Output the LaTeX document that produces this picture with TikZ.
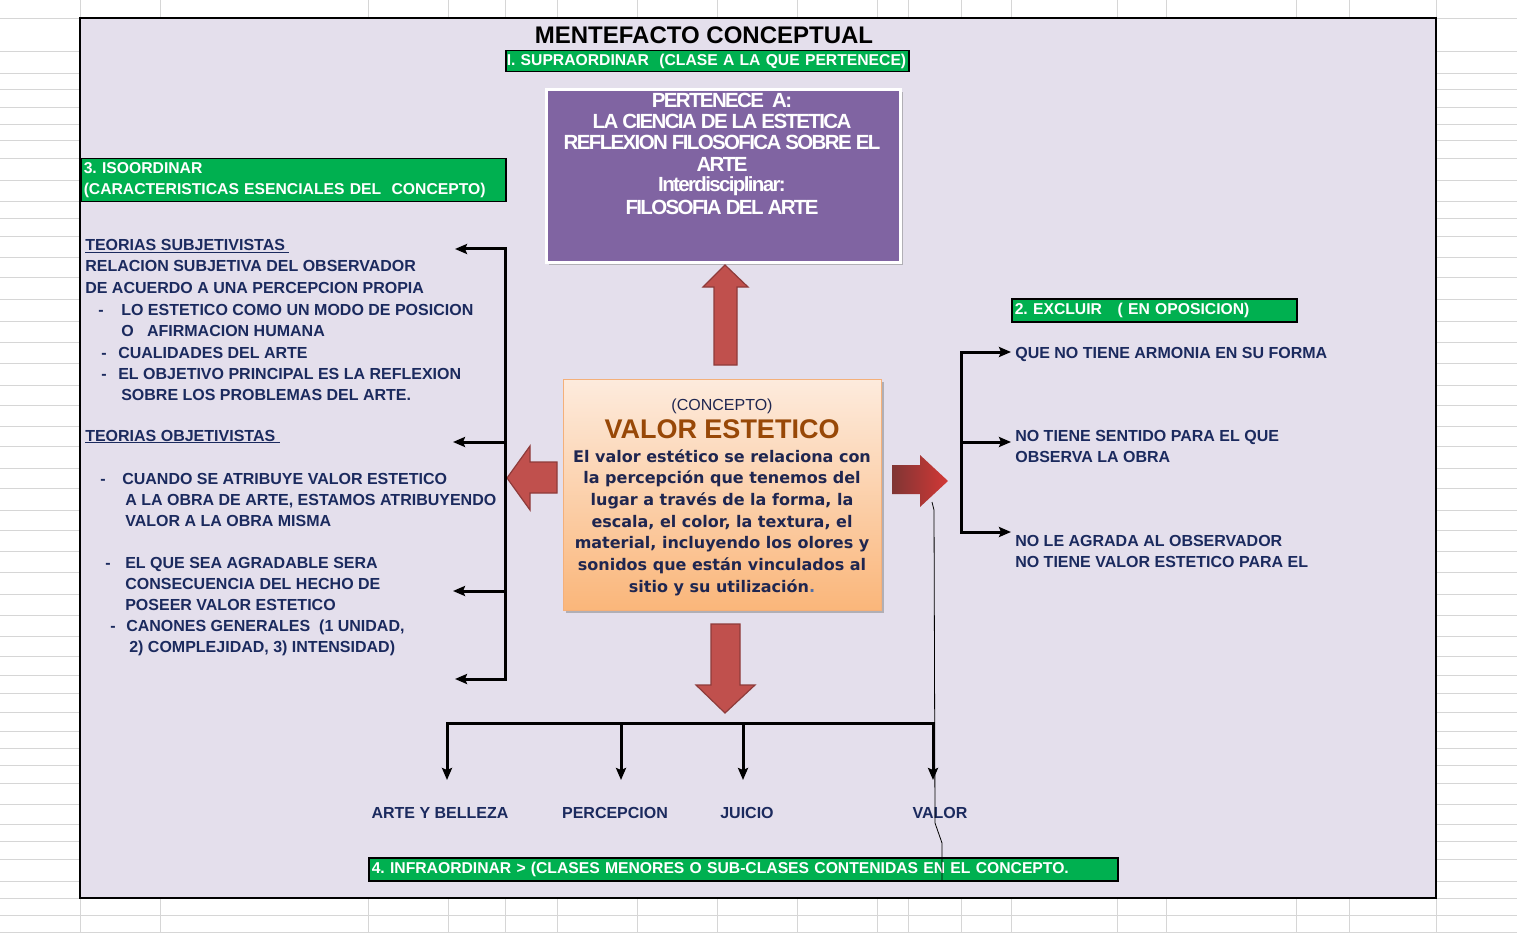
\documentclass[tikz,border=0pt]{standalone}
\usepackage{fontspec}
\setmainfont{Liberation Sans}
\newfontfamily\verdfont{DejaVu Sans}
\newfontfamily\tightfont[LetterSpace=-8]{Liberation Sans}
\usetikzlibrary{arrows,arrows.meta,shapes,shadows,positioning}

\definecolor{lavender}{HTML}{E4DFEC}
\definecolor{gridgray}{HTML}{D6D6D6}
\definecolor{boxgreen}{HTML}{00B050}
\definecolor{purp}{HTML}{8064A2}
\definecolor{navy}{HTML}{1B2A5E}
\definecolor{conctxt}{HTML}{1F2650}
\definecolor{valbrown}{HTML}{984807}
\definecolor{dotblue}{HTML}{4F6FA8}
\definecolor{arrowred}{HTML}{C0504D}
\definecolor{arrowdark}{HTML}{8E3B3A}
\definecolor{peachtop}{HTML}{FDEBDD}
\definecolor{peachbot}{HTML}{FAB67A}
\definecolor{peachedge}{HTML}{F4B07A}

\begin{document}
\frenchspacing
\begin{tikzpicture}[x=1pt,y=-1pt,>={Stealth[length=12pt,width=10pt,inset=2pt]},semithick]
  \tikzstyle{grid line}=[draw=gridgray,line width=0.8pt]
  \tikzstyle{green box}=[fill=boxgreen,draw=black,line width=1.5pt,text=white,
                         align=left,inner xsep=3pt,inner ysep=1pt,anchor=north west,
                         font=\bfseries\fontsize{15.7}{21}\selectfont]
  \tikzstyle{item}=[anchor=base west,inner sep=0pt,text=navy,
                    font=\bfseries\fontsize{16}{18}\selectfont]
  \tikzstyle{branch}=[line width=3pt]
  \tikzstyle{block arrow}=[fill=arrowred,draw=arrowdark,line width=1.2pt]

  \useasboundingbox (0,0) rectangle (1517,933);

  % sheet grid
  \foreach \gx in {80,160,368,448,505,557,637,717,797,877,908,961,1011,1117,1166,1296,1349,1436}
    \draw[grid line] (\gx,0) -- (\gx,933);
  \foreach \gy in {18,51,73,89,107,124,140,158,180,201,218,236,257,277,299,321,342,363,385,
                   405,426,446,468,488,510,530,551,572,594,615,636,656,675,693,712,731,748,
                   765,783,804,824,841,859,881,898,915,932}
    \draw[grid line] (0,\gy) -- (1517,\gy);

  % frame
  \draw[fill=lavender,line width=2.5pt] (80,18) rectangle (1436,898);

  \node[anchor=base,inner sep=0pt,font=\bfseries\fontsize{24}{26}\selectfont] (title)
       at (704,44) {MENTEFACTO CONCEPTUAL};

  % labels of the four parts
  \node[green box,inner xsep=1pt,text width=401,minimum height=21] (supra) at (505,50)
       {I. SUPRAORDINAR\ \ (CLASE A LA QUE PERTENECE)};
  \node[green box,text width=419,minimum height=43] (iso) at (80,158)
       {3. ISOORDINAR\\(CARACTERISTICAS ESENCIALES DEL\ \ CONCEPTO)};
  \node[green box,text width=279,minimum height=23] (excl) at (1011,298)
       {2. EXCLUIR\ \ \ ( EN OPOSICION)};
  \node[green box,text width=743,minimum height=23] (infra) at (368,857)
       {4. INFRAORDINAR > (CLASES MENORES O SUB-CLASES CONTENIDAS EN EL CONCEPTO.};

  % supraordinada
  \node[draw=white,line width=3pt,fill=purp,minimum width=354,minimum height=173,
        anchor=north west,drop shadow] (perten) at (545,88) {};
  \foreach \ty/\tt [count=\i] in {108/{PERTENECE\ \ A:},129/{LA CIENCIA DE LA ESTETICA},
                                   150/{REFLEXION FILOSOFICA SOBRE EL},172/{ARTE},
                                   192/{Interdisciplinar:},215/{FILOSOFIA DEL ARTE}}
    \node[anchor=base,inner sep=0pt,text=white,font=\tightfont\bfseries\fontsize{20.5}{22}\selectfont]
         (pt\i) at (722,\ty) {\tt};

  % concepto
  \node[draw=peachedge,top color=peachtop,bottom color=peachbot,minimum width=318,
        minimum height=231,anchor=north west,drop shadow] (conc) at (563,379) {};
  \node[anchor=base,inner sep=0pt,text=conctxt,font=\fontsize{16}{18}\selectfont]
       (cname) at (722,410) {(CONCEPTO)};
  \node[anchor=base,inner sep=0pt,text=valbrown,font=\bfseries\fontsize{27}{30}\selectfont]
       (cval) at (722,438) {VALOR ESTETICO};
  \foreach \tt [count=\i] in {El valor estético se relaciona con,la percepción que tenemos del,
                              {lugar a través de la forma, la},{escala, el color, la textura, el},
                              {material, incluyendo los olores y},sonidos que están vinculados al,
                              sitio y su utilización\textcolor{dotblue}{.}}
    \node[anchor=base,inner sep=0pt,text=conctxt,font=\verdfont\bfseries\fontsize{16}{18}\selectfont]
         (cl\i) at (722,{462+21.67*(\i-1)}) {\tt};

  % isoordinadas
  \foreach \tx/\ty/\tt [count=\i] in {
      85/251/{\underline{TEORIAS SUBJETIVISTAS\ }},
      85/272/{RELACION SUBJETIVA DEL OBSERVADOR},
      85/293/{DE ACUERDO A UNA PERCEPCION PROPIA},
      98/315/{-},121/315/{LO ESTETICO COMO UN MODO DE POSICION},
      121/336/{O\ \ \ AFIRMACION HUMANA},
      101/358/{-},118/358/{CUALIDADES DEL ARTE},
      101/379/{-},118/379/{EL OBJETIVO PRINCIPAL ES LA REFLEXION},
      121/400/{SOBRE LOS PROBLEMAS DEL ARTE.},
      85/441/{\underline{TEORIAS OBJETIVISTAS\ }},
      100/484/{-},122/484/{CUANDO SE ATRIBUYE VALOR ESTETICO},
      125/505/{A LA OBRA DE ARTE, ESTAMOS ATRIBUYENDO},
      125/526/{VALOR A LA OBRA MISMA},
      105/568/{-},125/568/{EL QUE SEA AGRADABLE SERA},
      125/589/{CONSECUENCIA DEL HECHO DE},
      125/610/{POSEER VALOR ESTETICO},
      110/631/{-},126/631/{CANONES GENERALES\ \ (1 UNIDAD,},
      129/652/{2) COMPLEJIDAD, 3) INTENSIDAD)}}
    \node[item] (iso\i) at (\tx,\ty) {\tt};

  % excluidas
  \foreach \ty/\tt [count=\i] in {358/{QUE NO TIENE ARMONIA EN SU FORMA},
                                   441/{NO TIENE SENTIDO PARA EL QUE},462/{OBSERVA LA OBRA},
                                   546/{NO LE AGRADA AL OBSERVADOR},567/{NO TIENE VALOR ESTETICO PARA EL}}
    \node[item] (excl\i) at (1015,\ty) {\tt};

  % infraordinadas
  \node[item,anchor=base] (arte)   at (440,818) {ARTE Y BELLEZA};
  \node[item,anchor=base] (percep) at (615,818) {PERCEPCION};
  \node[item,anchor=base] (juicio) at (747,818) {JUICIO};
  \node[item,anchor=base] (valor)  at (940,818) {VALOR};

  % block arrows out of the concept
  \draw[block arrow] (714,365) -- (714,287) -- (703,287) -- (725,265) -- (748,287)
                     -- (737,287) -- (737,365) -- cycle;
  \draw[block arrow] (557,462) -- (530,462) -- (530,446) -- (507,478) -- (530,510)
                     -- (530,493) -- (557,493) -- cycle;
  \draw[left color=arrowdark!90!black,right color=arrowred!70!red,draw=none]
       (892,465) -- (920,465) -- (920,455) -- (948,481) -- (920,507) -- (920,494)
       -- (892,494) -- cycle;
  \draw[block arrow] (711,624) -- (740,624) -- (740,685) -- (755,685) -- (725,713)
                     -- (696,685) -- (711,685) -- cycle;

  % brackets
  \coordinate (L1) at (505,249);
  \coordinate (L4) at (505,679);
  \coordinate (lt1) at (455,249);
  \coordinate (lt2) at (453,442);
  \coordinate (lt3) at (453,591);
  \coordinate (lt4) at (455,679);
  \draw[branch,<->] (lt1) -- (L1) -- (L4) -- (lt4);
  \draw[branch,->] (505,442) -- (lt2);
  \draw[branch,->] (505,591) -- (lt3);

  \coordinate (R1) at (961,352);
  \coordinate (R3) at (961,532);
  \draw[branch,<->] (1011,352) -- (R1) -- (R3) -- (1011,532);
  \draw[branch,->] (961,442) -- (1011,442);

  \coordinate (B0) at (447,723);
  \coordinate (B3) at (933,723);
  \draw[branch,<->] (447,780) -- (B0) -- (B3) -- (933,780);
  \draw[branch,->] (621,723) -- (621,780);
  \draw[branch,->] (743,723) -- (743,780);

  % stray thin line
  \draw[line width=0.8pt] (932,502) -- (934,510) -- (935,823) -- (942,843) -- (942,880);
\end{tikzpicture}
\end{document}
